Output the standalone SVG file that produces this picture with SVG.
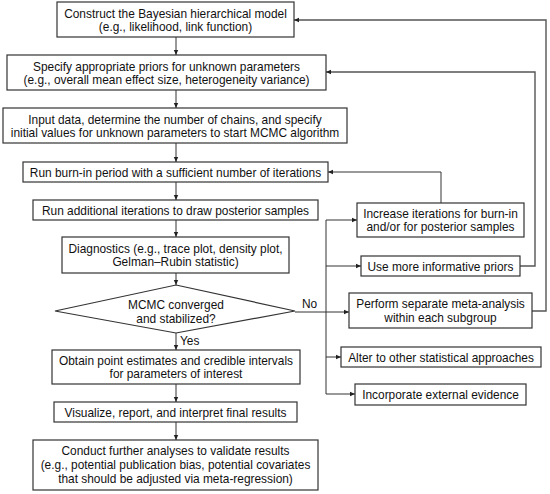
<svg xmlns="http://www.w3.org/2000/svg" width="550" height="494" viewBox="0 0 550 494">
<defs>
<style>
.box{fill:#fff;stroke:#333;stroke-width:1.2}
.t{font-family:"Liberation Sans",Arial,sans-serif;font-size:11.9px;fill:#111;text-anchor:middle}
.l{font-family:"Liberation Sans",Arial,sans-serif;font-size:11.9px;fill:#111}
.c{fill:none;stroke:#333;stroke-width:1}
.f{fill:none;stroke:#555;stroke-width:1.4}
</style>
<marker id="ah" markerWidth="6" markerHeight="6" refX="5" refY="3" orient="auto" markerUnits="userSpaceOnUse">
<path d="M0,0.8 L5,3 L0,5.2 Z" fill="#222"/>
</marker>
</defs>
<rect width="550" height="494" fill="#fff"/>
<g id="connectors">
<line class="c" x1="176" y1="37" x2="176" y2="55" marker-end="url(#ah)"/>
<line class="c" x1="176" y1="90" x2="176" y2="108" marker-end="url(#ah)"/>
<line class="c" x1="176" y1="143" x2="176" y2="162" marker-end="url(#ah)"/>
<line class="c" x1="176" y1="182" x2="176" y2="200" marker-end="url(#ah)"/>
<line class="c" x1="176" y1="220" x2="176" y2="237" marker-end="url(#ah)"/>
<line class="c" x1="176" y1="273" x2="176" y2="285" marker-end="url(#ah)"/>
<line class="c" x1="176" y1="333" x2="176" y2="350" marker-end="url(#ah)"/>
<line class="c" x1="176" y1="384" x2="176" y2="402" marker-end="url(#ah)"/>
<line class="c" x1="176" y1="422" x2="176" y2="440" marker-end="url(#ah)"/>
<line class="c" x1="295" y1="312" x2="349" y2="312" marker-end="url(#ah)"/>
<polyline class="c" points="326,220 326,394"/>
<line class="c" x1="326" y1="220" x2="357" y2="220" marker-end="url(#ah)"/>
<line class="c" x1="326" y1="266" x2="361" y2="266" marker-end="url(#ah)"/>
<line class="c" x1="326" y1="357" x2="341" y2="357" marker-end="url(#ah)"/>
<line class="c" x1="326" y1="394" x2="355" y2="394" marker-end="url(#ah)"/>
<polyline class="c" points="441,203 441,172 328,172" marker-end="url(#ah)"/>
<polyline class="f" points="520,266 535,266 535,72 326,72" marker-end="url(#ah)"/>
<polyline class="f" points="532,311 546,311 546,20 294,20" marker-end="url(#ah)"/>
<text class="l" x="302" y="308">No</text>
<text class="l" x="180" y="345">Yes</text>
</g>
<g id="n1"><rect class="box" x="57" y="2" width="237" height="35"/>
<text class="t" x="175.5" y="17.5">Construct the Bayesian hierarchical model</text>
<text class="t" x="175.5" y="31">(e.g., likelihood, link function)</text></g>
<g id="n2"><rect class="box" x="7" y="55" width="319" height="35"/>
<text class="t" x="166.5" y="70.5">Specify appropriate priors for unknown parameters</text>
<text class="t" x="166.5" y="84">(e.g., overall mean effect size, heterogeneity variance)</text></g>
<g id="n3"><rect class="box" x="3" y="108" width="344" height="35"/>
<text class="t" x="175" y="123.5">Input data, determine the number of chains, and specify</text>
<text class="t" x="175" y="137">initial values for unknown parameters to start MCMC algorithm</text></g>
<g id="n4"><rect class="box" x="23" y="162" width="305" height="20"/>
<text class="t" x="175.5" y="176.5">Run burn-in period with a sufficient number of iterations</text></g>
<g id="n5"><rect class="box" x="33" y="200" width="285" height="20"/>
<text class="t" x="175.5" y="214.5">Run additional iterations to draw posterior samples</text></g>
<g id="n6"><rect class="box" x="62" y="237" width="227" height="36"/>
<text class="t" x="175.5" y="252.5">Diagnostics (e.g., trace plot, density plot,</text>
<text class="t" x="175.5" y="266">Gelman–Rubin statistic)</text></g>
<g id="n7"><polygon class="box" points="176,285 295,311 176,333 55,311"/>
<text class="t" x="176" y="309">MCMC converged</text>
<text class="t" x="176" y="323">and stabilized?</text></g>
<g id="n8"><rect class="box" x="52" y="350" width="248" height="34"/>
<text class="t" x="176" y="364.5">Obtain point estimates and credible intervals</text>
<text class="t" x="176" y="378">for parameters of interest</text></g>
<g id="n9"><rect class="box" x="54" y="402" width="243" height="20"/>
<text class="t" x="175.5" y="416.5">Visualize, report, and interpret final results</text></g>
<g id="n10"><rect class="box" x="33" y="440" width="285" height="50"/>
<text class="t" x="175.5" y="455">Conduct further analyses to validate results</text>
<text class="t" x="175.5" y="469">(e.g., potential publication bias, potential covariates</text>
<text class="t" x="175.5" y="483">that should be adjusted via meta-regression)</text></g>
<g id="n11"><rect class="box" x="357" y="203" width="167" height="34"/>
<text class="t" x="440.5" y="217.5">Increase iterations for burn-in</text>
<text class="t" x="440.5" y="231">and/or for posterior samples</text></g>
<g id="n12"><rect class="box" x="361" y="256" width="159" height="20"/>
<text class="t" x="440.5" y="270.5">Use more informative priors</text></g>
<g id="n13"><rect class="box" x="349" y="293" width="183" height="35"/>
<text class="t" x="440.5" y="308">Perform separate meta-analysis</text>
<text class="t" x="440.5" y="322">within each subgroup</text></g>
<g id="n14"><rect class="box" x="341" y="347" width="200" height="20"/>
<text class="t" x="441" y="361.5">Alter to other statistical approaches</text></g>
<g id="n15"><rect class="box" x="355" y="384" width="171" height="21"/>
<text class="t" x="440.5" y="398.5">Incorporate external evidence</text></g>
</svg>
